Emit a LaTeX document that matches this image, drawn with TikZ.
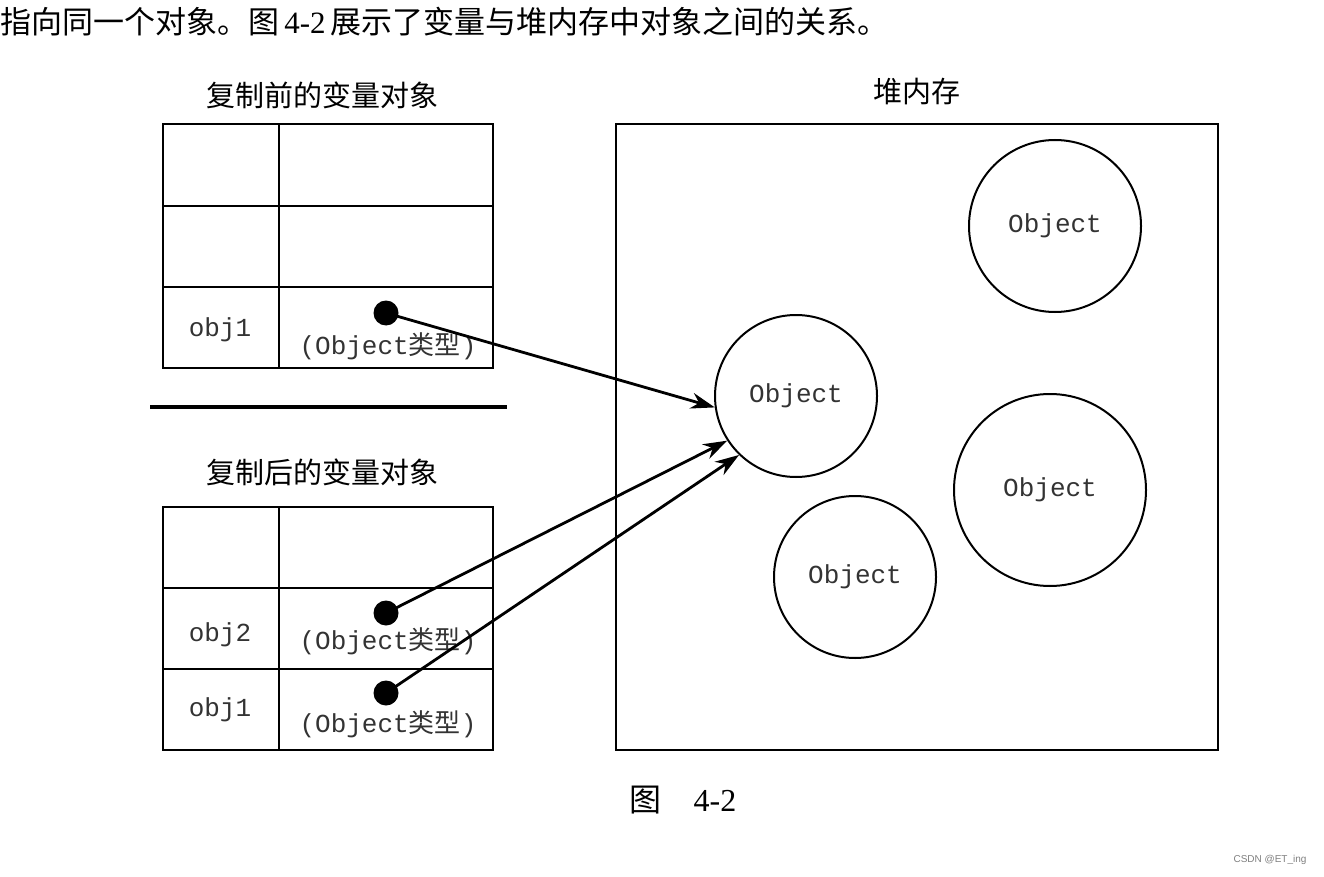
\documentclass[tikz,border=0pt]{standalone}
\usepackage{fontspec}
\usetikzlibrary{arrows.meta}
\setmainfont{Liberation Serif}
\newfontfamily\cjk{Noto Sans CJK SC}
\newfontfamily\mono{Liberation Mono}
\begin{document}
\begin{tikzpicture}[x=1pt,y=-1pt,
  cell/.style={draw,line width=2pt},
  obj/.style={draw,circle,line width=2pt,inner sep=0pt,font=\mono\fontsize{26}{28}\selectfont,text=black!80},
  mtext/.style={font=\mono\fontsize{26}{28}\selectfont,text=black!80},
  ttl/.style={font=\cjk\fontsize{29}{32}\selectfont},
  dot/.style={circle,fill=black,inner sep=0pt,minimum size=25pt},
  arr/.style={-{Stealth[length=24pt,width=16pt]},line width=2.8pt}]
\useasboundingbox (0,0) rectangle (1324,877);
\fill[white] (0,0) rectangle (1324,877);
\node[anchor=west,font=\cjk\fontsize{31}{34}\selectfont,inner sep=0pt] (top) at (0,22) {指向同一个对象。图\,{\fontspec{Liberation Serif}4-2}\,展示了变量与堆内存中对象之间的关系。};
\node[ttl] (t1) at (322,95) {复制前的变量对象};
\node[ttl] (t2) at (322,472) {复制后的变量对象};
\node[ttl] (t3) at (917,92) {堆内存};
% table 1
\draw[cell] (163,124) rectangle (493,368);
\draw[cell] (279,124) -- (279,368);
\draw[cell] (163,206) -- (493,206);
\draw[cell] (163,287) -- (493,287);
% table 2
\draw[cell] (163,507) rectangle (493,750);
\draw[cell] (279,507) -- (279,750);
\draw[cell] (163,588) -- (493,588);
\draw[cell] (163,669) -- (493,669);
\draw[line width=4pt] (150,407) -- (507,407);
\node[mtext] (l1) at (220,330) {obj1};
\node[mtext] (l2) at (220,635) {obj2};
\node[mtext] (l3) at (220,710) {obj1};
\node[mtext] (v1) at (388,346) {(Object{\cjk 类型})};
\node[mtext] (v2) at (388,641) {(Object{\cjk 类型})};
\node[mtext] (v3) at (388,724) {(Object{\cjk 类型})};
\node[dot] (d1) at (386,313) {};
\node[dot] (d2) at (386,613) {};
\node[dot] (d3) at (386,693) {};
% heap
\draw[cell] (616,124) rectangle (1218,750);
\node[obj,minimum size=172pt] (o1) at (1055,226) {Object};
\node[obj,minimum size=162pt] (o2) at (796,396) {Object};
\node[obj,minimum size=192pt] (o3) at (1050,490) {Object};
\node[obj,minimum size=162pt] (o4) at (855,577) {Object};
\draw[arr] (d1.center) -- (o2.188);
\draw[arr] (d2.center) -- (o2.213);
\draw[arr] (d3.center) -- (o2.226);
\node[font=\fontsize{32}{34}\selectfont] (cap) at (683,800) {{\cjk 图}\quad 4-2};
\node[font=\fontspec{Liberation Sans}\fontsize{10}{12}\selectfont,text=black!50] (wm) at (1270,860) {CSDN @ET\_ing};
\end{tikzpicture}
\end{document}
